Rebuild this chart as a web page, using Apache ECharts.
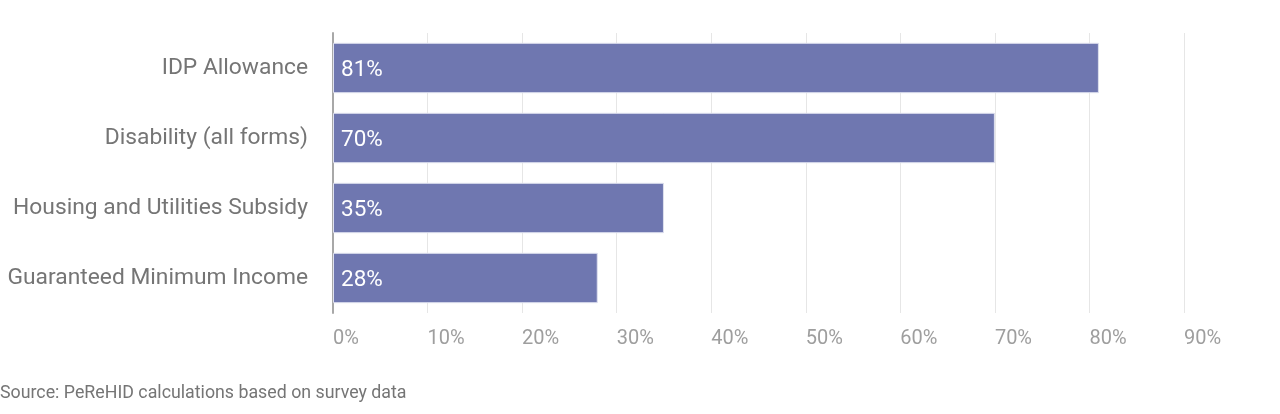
<!DOCTYPE html>
<html>
<head>
<meta charset="utf-8">
<script src="https://cdn.jsdelivr.net/npm/echarts@6/dist/echarts.min.js"></script>
<style>
  html, body { margin: 0; padding: 0; background: #fff; }
  #chart { width: 1280px; height: 414px; }
</style>
</head>
<body>
<div id="chart"></div>
<script>
// categories, top to bottom
var categories = ['IDP Allowance', 'Disability (all forms)', 'Housing and Utilities Subsidy', 'Guaranteed Minimum Income'];
var shares = [81, 70, 35, 28];
var sourceNote = 'Source: PeReHID calculations based on survey data';

var myChart = echarts.init(document.getElementById('chart'));
var option = {
  animation: false,
  textStyle: { fontFamily: 'Roboto' },
  graphic: [{
    type: 'text',
    left: 0,
    top: 385,
    style: { text: sourceNote, fill: '#757575', font: '17.8px Roboto' }
  }],
  grid: { left: 333, right: 96, top: 33, bottom: 101 },
  xAxis: {
    type: 'value',
    min: 0,
    max: 90,
    interval: 10,
    axisLine: { show: false },
    axisTick: { show: false },
    splitLine: { lineStyle: { color: '#e6e6e6', width: 1 } },
    axisLabel: {
      formatter: '{value}%',
      color: '#9e9e9e',
      fontSize: 20,
      align: 'left',
      margin: 16
    }
  },
  yAxis: {
    type: 'category',
    inverse: true,
    data: categories,
    axisLine: { lineStyle: { color: '#a8a8a8', width: 2 } },
    axisTick: { show: false },
    axisLabel: { color: '#757575', fontSize: 22.8, margin: 25, padding: [5, 0, 0, 0] }
  },
  series: [{
    type: 'bar',
    data: shares,
    barCategoryGap: '28%',
    itemStyle: { color: '#6f77b0', borderColor: '#dfe1ef', borderWidth: 1 },
    label: {
      show: true,
      position: 'insideLeft',
      formatter: '{c}%',
      color: '#ffffff',
      fontSize: 22.5,
      distance: 8,
      offset: [0, 2]
    }
  }]
};
myChart.setOption(option);
</script>
</body>
</html>
